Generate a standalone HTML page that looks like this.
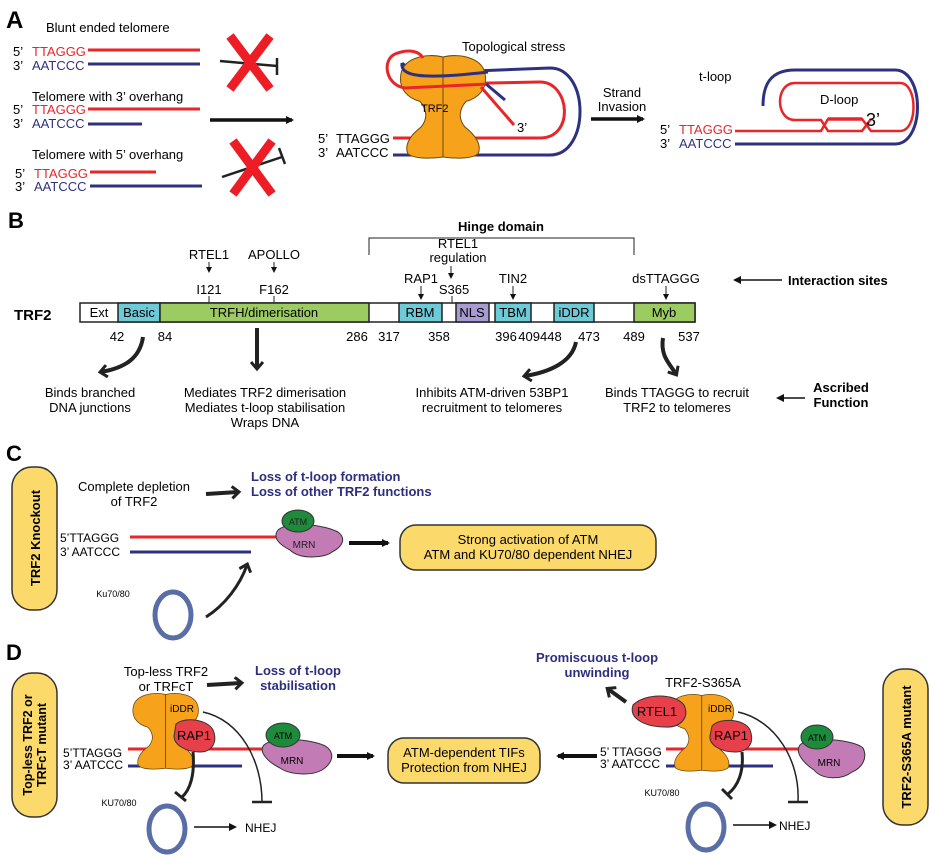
<!DOCTYPE html>
<html><head><meta charset="utf-8"><style>
html,body{margin:0;padding:0;background:#fff}
svg{display:block}
text{font-family:"Liberation Sans",sans-serif}
</style></head><body>
<svg width="931" height="861" viewBox="0 0 931 861" xmlns="http://www.w3.org/2000/svg">
<defs>
<marker id="ah" markerWidth="8" markerHeight="8" refX="6" refY="4" orient="auto" markerUnits="userSpaceOnUse"><path d="M0,0 L8,4 L0,8 Z" fill="#111"/></marker>
<marker id="ahs" markerWidth="6" markerHeight="6" refX="5" refY="3" orient="auto" markerUnits="userSpaceOnUse"><path d="M0,0 L6,3 L0,6 Z" fill="#111"/></marker>
<marker id="chev" markerWidth="14" markerHeight="14" refX="7" refY="7" orient="auto" markerUnits="userSpaceOnUse"><path d="M1,1 L8,7 L1,13" fill="none" stroke="#222" stroke-width="3"/></marker>
<g id="half"><path d="M45,2 C30,-2 6,2 3,18 C0,33 10,42 22,45 C29,53 30,62 23,70 C12,78 6,88 10,96 C18,102 38,100 45,99 Z" fill="#f7a21b" stroke="#6b4a10" stroke-width="1"/></g>
<g id="trf2"><use href="#half"/><use href="#half" transform="translate(90,0) scale(-1,1)"/></g>
</defs>

<!-- ===== A ===== -->
<text x="6" y="28" font-size="24" font-weight="bold">A</text>
<g font-size="13">
<text x="46" y="32">Blunt ended telomere</text>
<text x="13" y="56">5’</text><text x="32" y="56" fill="#e8262a">TTAGGG</text>
<text x="13" y="70">3’</text><text x="32" y="70" fill="#2e3180">AATCCC</text>
<text x="32" y="101">Telomere with 3’ overhang</text>
<text x="13" y="114">5’</text><text x="32" y="114" fill="#e8262a">TTAGGG</text>
<text x="13" y="128">3’</text><text x="32" y="128" fill="#2e3180">AATCCC</text>
<text x="32" y="159">Telomere with 5’ overhang</text>
<text x="15" y="178">5’</text><text x="34" y="178" fill="#e8262a">TTAGGG</text>
<text x="15" y="191">3’</text><text x="34" y="191" fill="#2e3180">AATCCC</text>
</g>
<g stroke-width="3">
<line x1="88" y1="50" x2="200" y2="50" stroke="#e8262a"/>
<line x1="88" y1="64" x2="200" y2="64" stroke="#2e3180"/>
<line x1="88" y1="109" x2="200" y2="109" stroke="#e8262a"/>
<line x1="88" y1="124" x2="142" y2="124" stroke="#2e3180"/>
<line x1="90" y1="172" x2="156" y2="172" stroke="#e8262a"/>
<line x1="90" y1="186" x2="202" y2="186" stroke="#2e3180"/>
</g>
<g stroke="#222" stroke-width="2.5" fill="none">
<line x1="220" y1="61" x2="277" y2="66"/><line x1="277" y1="58" x2="277" y2="75"/>
<line x1="222" y1="177" x2="282" y2="157"/><line x1="279" y1="148" x2="285" y2="164"/>
</g>
<g stroke="#ee1c24" stroke-width="9" stroke-linecap="butt">
<line x1="230" y1="36" x2="270" y2="89"/><line x1="270" y1="36" x2="230" y2="89"/>
<line x1="233" y1="141" x2="272" y2="194"/><line x1="272" y1="141" x2="233" y2="194"/>
</g>
<line x1="210" y1="120" x2="292" y2="120" stroke="#111" stroke-width="3.5" marker-end="url(#ah)"/>

<!-- TRF2 with loops -->
<text x="318" y="143" font-size="13">5’</text><text x="336" y="143" font-size="13">TTAGGG</text>
<text x="318" y="157" font-size="13">3’</text><text x="336" y="157" font-size="13">AATCCC</text>
<path d="M393,138 L540,138 C575,138 570,82 540,82 L440,84" stroke="#e8262a" stroke-width="3" fill="none"/>
<path d="M393,155 L550,155 C590,155 590,68 550,68 L450,72 C420,75 405,66 402,63" stroke="#2e3180" stroke-width="3" fill="none"/>
<use href="#trf2" transform="translate(398,55) scale(1,1.03)"/>
<path d="M488,84 L405,88 C385,85 382,60 395,54 C410,48 420,52 423,58" stroke="#e8262a" stroke-width="3" fill="none"/>
<path d="M402,63 C400,76 420,80 488,72" stroke="#2e3180" stroke-width="3" fill="none"/>
<path d="M481,87 L514,125" stroke="#e8262a" stroke-width="3"/>
<path d="M486,84 L505,100" stroke="#2e3180" stroke-width="3"/>
<text x="517" y="132" font-size="13">3’</text>
<text x="421" y="112" font-size="11">TRF2</text>
<text x="462" y="51" font-size="13">Topological stress</text>

<text x="622" y="97" font-size="13" text-anchor="middle">Strand</text>
<text x="622" y="111" font-size="13" text-anchor="middle">Invasion</text>
<line x1="591" y1="119" x2="643" y2="119" stroke="#111" stroke-width="3.5" marker-end="url(#ah)"/>

<text x="699" y="81" font-size="13">t-loop</text>
<text x="660" y="134" font-size="13">5’</text><text x="679" y="134" fill="#e8262a" font-size="13">TTAGGG</text>
<text x="660" y="148" font-size="13">3’</text><text x="679" y="148" fill="#2e3180" font-size="13">AATCCC</text>
<path d="M735,144 L895,144 C925,144 925,70 895,70 L795,70 C770,70 763,85 763,106" stroke="#2e3180" stroke-width="3" fill="none"/>
<path d="M735,131 L821,131 L828,119 L862,119 L871,131 L900,131 C918,131 918,83 900,83 L795,83 C775,83 775,120 795,120 L821,120 L828,131 L862,131 L871,119" stroke="#e8262a" stroke-width="2.5" fill="none"/>
<line x1="828" y1="119" x2="862" y2="119" stroke="#e8262a" stroke-width="3.5"/>
<text x="820" y="104" font-size="13">D-loop</text>
<text x="866" y="126" font-size="18">3’</text>

<!-- ===== B ===== -->
<text x="8" y="228" font-size="22" font-weight="bold">B</text>
<text x="501" y="231" font-size="13" font-weight="bold" text-anchor="middle">Hinge domain</text>
<path d="M369,255 L369,238 L634,238 L634,255" stroke="#222" stroke-width="1" fill="none"/>
<g font-size="13" text-anchor="middle">
<text x="209" y="259">RTEL1</text><text x="209" y="294">I121</text>
<text x="274" y="259">APOLLO</text><text x="274" y="294">F162</text>
<text x="458" y="248">RTEL1</text><text x="458" y="262">regulation</text>
<text x="421" y="283">RAP1</text>
<text x="454" y="294">S365</text>
<text x="513" y="283">TIN2</text>
<text x="666" y="283">dsTTAGGG</text>
</g>
<g stroke="#222" stroke-width="1">
<line x1="209" y1="262" x2="209" y2="272" marker-end="url(#ahs)"/>
<line x1="274" y1="262" x2="274" y2="272" marker-end="url(#ahs)"/>
<line x1="451" y1="266" x2="451" y2="278" marker-end="url(#ahs)"/>
<line x1="421" y1="286" x2="421" y2="299" marker-end="url(#ahs)"/>
<line x1="513" y1="286" x2="513" y2="299" marker-end="url(#ahs)"/>
<line x1="666" y1="286" x2="666" y2="299" marker-end="url(#ahs)"/>
<line x1="209" y1="296" x2="209" y2="303"/><line x1="274" y1="296" x2="274" y2="303"/>
<line x1="452" y1="296" x2="452" y2="306"/>
</g>
<text x="788" y="285" font-size="13" font-weight="bold">Interaction sites</text>
<line x1="782" y1="280" x2="735" y2="280" stroke="#111" stroke-width="1.5" marker-end="url(#ah)"/>
<text x="14" y="320" font-size="15" font-weight="bold">TRF2</text>
<g stroke="#222" stroke-width="1.5">
<rect x="80" y="303" width="615" height="19" fill="#fff"/>
<rect x="118" y="303" width="42" height="19" fill="#6ccbd6"/>
<rect x="160" y="303" width="209" height="19" fill="#9ccb61"/>
<rect x="399" y="303" width="43" height="19" fill="#6ccbd6"/>
<rect x="456" y="303" width="33" height="19" fill="#a79bd1"/>
<rect x="495" y="303" width="36" height="19" fill="#6ccbd6"/>
<rect x="554" y="303" width="40" height="19" fill="#6ccbd6"/>
<rect x="634" y="303" width="61" height="19" fill="#9ccb61"/>
</g>
<g font-size="13" text-anchor="middle">
<text x="99" y="317">Ext</text><text x="139" y="317">Basic</text><text x="264" y="317">TRFH/dimerisation</text>
<text x="420" y="317">RBM</text><text x="472" y="317">NLS</text><text x="513" y="317">TBM</text><text x="574" y="317">iDDR</text><text x="664" y="317">Myb</text>
<text x="117" y="341">42</text><text x="165" y="341">84</text><text x="357" y="341">286</text><text x="389" y="341">317</text><text x="439" y="341">358</text><text x="506" y="341">396</text><text x="540" y="341">409448</text><text x="589" y="341">473</text><text x="634" y="341">489</text><text x="689" y="341">537</text>
</g>
<g stroke="#222" stroke-width="4" fill="none">
<path d="M143,337 C140,358 125,368 101,372" marker-end="url(#chev)"/>
<path d="M257,328 L257,368" marker-end="url(#chev)"/>
<path d="M576,342 C572,362 550,372 525,376" marker-end="url(#chev)"/>
<path d="M663,338 C660,356 670,364 676,374" marker-end="url(#chev)"/>
</g>
<g font-size="13" text-anchor="middle">
<text x="90" y="397">Binds branched</text><text x="90" y="412">DNA junctions</text>
<text x="265" y="397">Mediates TRF2 dimerisation</text><text x="265" y="412">Mediates t-loop stabilisation</text><text x="265" y="427">Wraps DNA</text>
<text x="492" y="397">Inhibits ATM-driven 53BP1</text><text x="492" y="412">recruitment to telomeres</text>
<text x="677" y="397">Binds TTAGGG to recruit</text><text x="677" y="412">TRF2 to telomeres</text>
<text x="841" y="392" font-weight="bold">Ascribed</text><text x="841" y="407" font-weight="bold">Function</text>
</g>
<line x1="805" y1="398" x2="778" y2="398" stroke="#111" stroke-width="1.5" marker-end="url(#ah)"/>

<!-- ===== C ===== -->
<text x="6" y="461" font-size="22" font-weight="bold">C</text>
<rect x="12" y="467" width="45" height="143" rx="20" fill="#fcd96b" stroke="#333" stroke-width="1.5"/>
<text transform="translate(40,538) rotate(-90)" font-size="13" font-weight="bold" text-anchor="middle">TRF2 Knockout</text>
<text x="134" y="491" font-size="13" text-anchor="middle">Complete depletion</text>
<text x="134" y="506" font-size="13" text-anchor="middle">of TRF2</text>
<path d="M206,494 L238,492" stroke="#222" stroke-width="4" marker-end="url(#chev)"/>
<text x="251" y="481" font-size="13" font-weight="bold" fill="#2e2e7f">Loss of t-loop formation</text>
<text x="251" y="496" font-size="13" font-weight="bold" fill="#2e2e7f">Loss of other TRF2 functions</text>
<text x="60" y="542" font-size="12">5’TTAGGG</text>
<text x="60" y="556" font-size="12">3’ AATCCC</text>
<line x1="130" y1="537" x2="277" y2="537" stroke="#e8262a" stroke-width="3"/>
<line x1="130" y1="552" x2="251" y2="552" stroke="#2e3180" stroke-width="3"/>
<path d="M278,530 C290,520 325,525 338,532 C348,540 340,548 332,552 C325,558 300,560 290,550 C280,545 272,538 278,530 Z" fill="#c27bb4" stroke="#333" stroke-width="1"/>
<ellipse cx="298" cy="521" rx="16" ry="11" fill="#1d8a3c" stroke="#333" stroke-width="1"/>
<text x="298" y="525" font-size="9" fill="#222" text-anchor="middle">ATM</text>
<text x="304" y="548" font-size="10" fill="#222" text-anchor="middle">MRN</text>
<line x1="349" y1="543" x2="388" y2="543" stroke="#111" stroke-width="4" marker-end="url(#ah)"/>
<rect x="400" y="525" width="256" height="45" rx="16" fill="#fcd96b" stroke="#333" stroke-width="1.5"/>
<text x="528" y="544" font-size="13" text-anchor="middle">Strong activation of ATM</text>
<text x="528" y="559" font-size="13" text-anchor="middle">ATM and KU70/80 dependent NHEJ</text>
<text x="113" y="597" font-size="9" text-anchor="middle">Ku70/80</text>
<ellipse cx="173" cy="615" rx="18" ry="23" fill="none" stroke="#5a6ea6" stroke-width="5"/>
<path d="M206,617 C225,605 240,585 247,565" stroke="#222" stroke-width="3" fill="none" marker-end="url(#chev)"/>

<!-- ===== D ===== -->
<text x="6" y="660" font-size="22" font-weight="bold">D</text>
<rect x="12" y="673" width="45" height="144" rx="20" fill="#fcd96b" stroke="#333" stroke-width="1.5"/>
<text transform="translate(32,745) rotate(-90)" font-size="12.5" font-weight="bold" text-anchor="middle">Top-less TRF2 or</text>
<text transform="translate(46,745) rotate(-90)" font-size="12.5" font-weight="bold" text-anchor="middle">TRFcT mutant</text>
<text x="166" y="676" font-size="13" text-anchor="middle">Top-less TRF2</text>
<text x="166" y="691" font-size="13" text-anchor="middle">or TRFcT</text>
<path d="M207,685 L241,683" stroke="#222" stroke-width="4" marker-end="url(#chev)"/>
<text x="298" y="675" font-size="13" font-weight="bold" fill="#2e2e7f" text-anchor="middle">Loss of t-loop</text>
<text x="298" y="690" font-size="13" font-weight="bold" fill="#2e2e7f" text-anchor="middle">stabilisation</text>
<text x="63" y="757" font-size="12">5’TTAGGG</text>
<text x="63" y="769" font-size="12">3’ AATCCC</text>
<line x1="128" y1="749" x2="262" y2="749" stroke="#e8262a" stroke-width="3"/>
<line x1="128" y1="766" x2="242" y2="766" stroke="#2e3180" stroke-width="3"/>
<use href="#trf2" transform="translate(131,693) scale(0.77,0.76)"/>
<text x="182" y="712" font-size="10" text-anchor="middle">iDDR</text>
<path d="M176,724 C186,716 208,720 213,730 C218,742 212,752 200,752 C186,752 174,745 174,736 Z" fill="#e8404a" stroke="#333" stroke-width="1"/>
<text x="194" y="740" font-size="13" text-anchor="middle">RAP1</text>
<path d="M264,745 C275,735 320,740 328,748 C336,756 330,765 322,770 C312,776 290,775 280,768 C268,762 258,752 264,745 Z" fill="#c27bb4" stroke="#333" stroke-width="1"/>
<ellipse cx="283" cy="735" rx="17" ry="12" fill="#1d8a3c" stroke="#333" stroke-width="1"/>
<text x="283" y="739" font-size="9" text-anchor="middle">ATM</text>
<text x="292" y="764" font-size="10" text-anchor="middle">MRN</text>
<line x1="337" y1="756" x2="373" y2="756" stroke="#111" stroke-width="4" marker-end="url(#ah)"/>
<rect x="388" y="738" width="152" height="45" rx="16" fill="#fcd96b" stroke="#333" stroke-width="1.5"/>
<text x="464" y="757" font-size="13" text-anchor="middle">ATM-dependent TIFs</text>
<text x="464" y="772" font-size="13" text-anchor="middle">Protection from NHEJ</text>
<line x1="597" y1="756" x2="558" y2="756" stroke="#111" stroke-width="4" marker-end="url(#ah)"/>
<path d="M203,712 C240,720 262,760 262,802" stroke="#222" stroke-width="1.5" fill="none"/>
<line x1="252" y1="802" x2="272" y2="802" stroke="#222" stroke-width="2.5"/>
<path d="M193,752 C195,775 190,790 182,797" stroke="#222" stroke-width="3" fill="none"/>
<line x1="175" y1="792" x2="186" y2="801" stroke="#222" stroke-width="3"/>
<text x="119" y="806" font-size="9" text-anchor="middle">KU70/80</text>
<ellipse cx="167" cy="829" rx="18" ry="23" fill="none" stroke="#5a6ea6" stroke-width="5"/>
<line x1="194" y1="827" x2="235" y2="827" stroke="#111" stroke-width="1.5" marker-end="url(#ah)"/>
<text x="245" y="832" font-size="12">NHEJ</text>

<!-- right -->
<text x="597" y="662" font-size="13" font-weight="bold" fill="#2e2e7f" text-anchor="middle">Promiscuous t-loop</text>
<text x="597" y="677" font-size="13" font-weight="bold" fill="#2e2e7f" text-anchor="middle">unwinding</text>
<text x="703" y="687" font-size="13" text-anchor="middle">TRF2-S365A</text>
<path d="M626,702 L608,689" stroke="#222" stroke-width="4" marker-end="url(#chev)"/>
<text x="600" y="756" font-size="12">5’ TTAGGG</text>
<text x="600" y="768" font-size="12">3’ AATCCC</text>
<line x1="666" y1="749" x2="799" y2="749" stroke="#e8262a" stroke-width="3"/>
<line x1="666" y1="766" x2="773" y2="766" stroke="#2e3180" stroke-width="3"/>
<use href="#trf2" transform="translate(668,694) scale(0.75,0.77)"/>
<path d="M633,705 C645,693 675,693 684,705 C690,718 680,728 665,727 C648,727 628,720 633,705 Z" fill="#e8404a" stroke="#333" stroke-width="1"/>
<text x="657" y="716" font-size="13" text-anchor="middle">RTEL1</text>
<text x="720" y="712" font-size="10" text-anchor="middle">iDDR</text>
<path d="M712,726 C720,717 745,719 750,730 C755,743 748,752 735,752 C721,752 709,745 710,736 Z" fill="#e8404a" stroke="#333" stroke-width="1"/>
<text x="731" y="740" font-size="13" text-anchor="middle">RAP1</text>
<path d="M800,745 C810,735 855,740 863,748 C868,758 862,768 852,772 C842,780 822,780 814,770 C802,762 795,752 800,745 Z" fill="#c27bb4" stroke="#333" stroke-width="1"/>
<ellipse cx="817" cy="737" rx="16" ry="12" fill="#1d8a3c" stroke="#333" stroke-width="1"/>
<text x="817" y="741" font-size="9" text-anchor="middle">ATM</text>
<text x="829" y="766" font-size="10" text-anchor="middle">MRN</text>
<path d="M738,712 C775,720 800,760 798,801" stroke="#222" stroke-width="1.5" fill="none"/>
<line x1="788" y1="802" x2="808" y2="802" stroke="#222" stroke-width="2.5"/>
<path d="M742,752 C744,772 738,786 728,794" stroke="#222" stroke-width="3" fill="none"/>
<line x1="722" y1="789" x2="732" y2="799" stroke="#222" stroke-width="3"/>
<text x="662" y="796" font-size="9" text-anchor="middle">KU70/80</text>
<ellipse cx="706" cy="827" rx="18" ry="23" fill="none" stroke="#5a6ea6" stroke-width="5"/>
<line x1="733" y1="825" x2="775" y2="825" stroke="#111" stroke-width="1.5" marker-end="url(#ah)"/>
<text x="779" y="830" font-size="12">NHEJ</text>
<rect x="883" y="669" width="45" height="156" rx="20" fill="#fcd96b" stroke="#333" stroke-width="1.5"/>
<text transform="translate(911,747) rotate(-90)" font-size="13" font-weight="bold" text-anchor="middle">TRF2-S365A mutant</text>
</svg>
</body></html>
